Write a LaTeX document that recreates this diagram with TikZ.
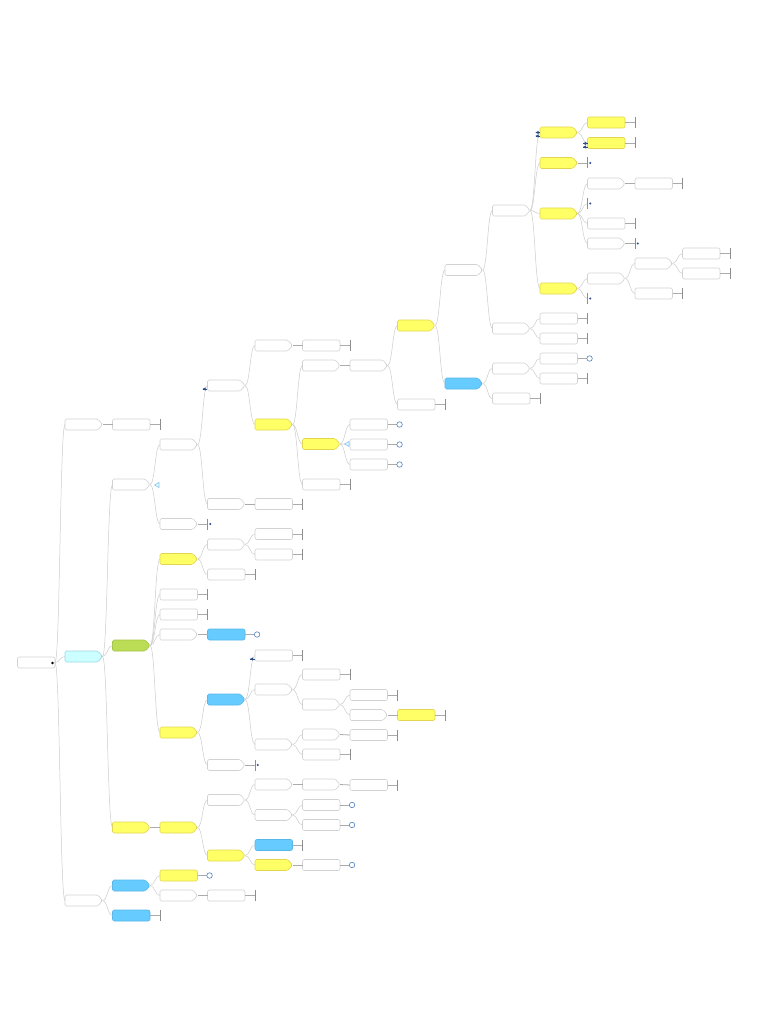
\documentclass[tikz,border=0pt]{standalone}
\usetikzlibrary{shapes.symbols}
\definecolor{yel}{HTML}{FFFF66}
\definecolor{yelb}{HTML}{E3D64E}
\definecolor{blu}{HTML}{66CCFF}
\definecolor{blub}{HTML}{55B6EA}
\definecolor{cya}{HTML}{CCFFFF}
\definecolor{cyab}{HTML}{99D8E8}
\definecolor{grn}{HTML}{BBDD55}
\definecolor{grnb}{HTML}{A3C445}
\definecolor{wbord}{HTML}{D2D2D2}
\definecolor{conc}{HTML}{CCCCCC}
\definecolor{tlc}{HTML}{ABABAB}
\definecolor{barc}{HTML}{8E8E8E}
\definecolor{circc}{HTML}{4F82C0}
\definecolor{dkb}{HTML}{2A4C8C}
\definecolor{lbm}{HTML}{8EC3EE}
\tikzset{
 base/.style={anchor=west, inner sep=0pt, outer sep=0pt, minimum width=37.5pt, minimum height=11pt, line width=0.6pt},
 leaf/.style={base, rectangle, rounded corners=2pt},
 tag/.style={base, shape=signal, signal to=east, signal from=nowhere, signal pointer angle=100, rounded corners=1.5pt},
 wh/.style={draw=wbord, fill=white},
 ye/.style={draw=yelb, fill=yel},
 bl/.style={draw=blub, fill=blu},
 cy/.style={draw=cyab, fill=cya},
 gr/.style={draw=grnb, fill=grn},
 conn/.style={draw=conc, line width=0.5pt},
 tline/.style={draw=tlc, line width=0.8pt},
 barl/.style={draw=barc, line width=0.8pt},
 circm/.style={circle, draw=circc, fill=white, line width=0.6pt, minimum size=5.5pt, inner sep=0pt, anchor=west},
}
\newcommand{\cn}[2]{\draw[conn] (#1.east) .. controls +(5,0) and +(-5,0) .. (#2.west);}
\newcommand{\cnc}[2]{\draw[conn] (#1.east) .. controls +(5,0) and +(-5,0) .. (#2);}
\newcommand{\sn}[2]{\draw[tline] (#1.east) -- (#2.west);}
\newcommand{\tb}[1]{\draw[tline] (#1.east) -- ++(10,0) coordinate (#1t); \draw[barl] ([yshift=5.5pt]#1t) -- ([yshift=-5.5pt]#1t);}
\newcommand{\tbd}[1]{\tb{#1}\fill[dkb] ([xshift=2.8pt]#1t) circle (1.1pt);}
\newcommand{\tc}[1]{\draw[tline] (#1.east) -- ++(9,0) coordinate (#1t); \node[circm] (#1c) at (#1t) {};}
\newcommand{\emb}[1]{\draw[barl] ([yshift=5.5pt]#1) -- ([yshift=-5.5pt]#1); \fill[dkb] ([xshift=2.8pt]#1) circle (1.1pt);}
\newcommand{\lmk}[2]{\fill[dkb] (#1,#2) -- ++(3,-1.6) -- ++(0,3.2) -- cycle; \draw[dkb, line width=0.6pt] (#1,#2) -- ++(4.5,0);}
\newcommand{\lbmk}[2]{\draw[lbm, fill=cya!60, line width=0.6pt] (#1-2.5,#2) -- (#1+2,#2-2.5) -- (#1+2,#2+2.5) -- cycle;}
\begin{document}
\begin{tikzpicture}[x=1pt,y=-1pt]
\useasboundingbox (0,0) rectangle (768,1024);
\fill[white] (0,0) rectangle (768,1024);
% column 0
\node[leaf,wh] (r) at (17.5,662.5) {};
% column 1
\node[tag,wh] (a1) at (65,424.5) {};
\node[tag,cy] (a2) at (65,656.5) {};
\node[tag,wh] (a3) at (65,900.5) {};
% column 2
\node[leaf,wh] (b1) at (112.5,424.5) {};
\node[tag,wh] (b2) at (112.5,484.5) {};
\node[tag,gr] (b3) at (112.5,645.5) {};
\node[tag,ye] (b4) at (112.5,827.5) {};
\node[tag,bl] (b5) at (112.5,885.5) {};
\node[leaf,bl] (b6) at (112.5,915.5) {};
% column 3
\node[tag,wh] (c1) at (160,444.5) {};
\node[tag,wh] (c2) at (160,524) {};
\node[tag,ye] (c3) at (160,559) {};
\node[leaf,wh] (c4) at (160,594.5) {};
\node[leaf,wh] (c5) at (160,614.5) {};
\node[tag,wh] (c6) at (160,634.5) {};
\node[tag,ye] (c7) at (160,732.5) {};
\node[tag,ye] (c8) at (160,827.5) {};
\node[leaf,ye] (c9) at (160,875.5) {};
\node[tag,wh] (c10) at (160,895.5) {};
% column 4
\node[tag,wh] (d1) at (207.5,385.5) {};
\node[tag,wh] (d2) at (207.5,504) {};
\node[tag,wh] (d3) at (207.5,544.5) {};
\node[leaf,wh] (d4) at (207.5,574.5) {};
\node[leaf,bl] (d5) at (207.5,634.5) {};
\node[tag,bl] (d6) at (207.5,699.5) {};
\node[tag,wh] (d7) at (207.5,765) {};
\node[tag,wh] (d8) at (207.5,800) {};
\node[tag,ye] (d9) at (207.5,855.5) {};
\node[leaf,wh] (d10) at (207.5,895.5) {};
% column 5
\node[tag,wh] (e1) at (255,345.5) {};
\node[tag,ye] (e2) at (255,424.5) {};
\node[leaf,wh] (e3) at (255,504) {};
\node[leaf,wh] (e4) at (255,534) {};
\node[leaf,wh] (e5) at (255,554.5) {};
\node[leaf,wh] (e6) at (255,655.5) {};
\node[tag,wh] (e7) at (255,689.5) {};
\node[tag,wh] (e8) at (255,744.5) {};
\node[tag,wh] (e9) at (255,784.5) {};
\node[tag,wh] (e10) at (255,815) {};
\node[leaf,bl] (e11) at (255,845) {};
\node[tag,ye] (e12) at (255,865) {};
% column 6
\node[leaf,wh] (f1) at (302.5,345.5) {};
\node[tag,wh] (f2) at (302.5,365.5) {};
\node[tag,ye] (f3) at (302.5,444) {};
\node[leaf,wh] (f4) at (302.5,484.5) {};
\node[leaf,wh] (f5) at (302.5,674.5) {};
\node[tag,wh] (f6) at (302.5,704.5) {};
\node[tag,wh] (f7) at (302.5,734.5) {};
\node[leaf,wh] (f8) at (302.5,754.5) {};
\node[tag,wh] (f9) at (302.5,784.5) {};
\node[leaf,wh] (f10) at (302.5,805) {};
\node[leaf,wh] (f11) at (302.5,825) {};
\node[leaf,wh] (f12) at (302.5,865) {};
% column 7
\node[tag,wh] (g1) at (350,365.5) {};
\node[leaf,wh] (g2) at (350,424.5) {};
\node[leaf,wh] (g3) at (350,444.5) {};
\node[leaf,wh] (g4) at (350,464.5) {};
\node[leaf,wh] (g5) at (350,695) {};
\node[tag,wh] (g6) at (350,715) {};
\node[leaf,wh] (g7) at (350,735) {};
\node[leaf,wh] (g8) at (350,785) {};
% column 8
\node[tag,ye] (h1) at (397.5,325.5) {};
\node[leaf,wh] (h2) at (397.5,404.5) {};
\node[leaf,ye] (h3) at (397.5,715) {};
% column 9
\node[tag,wh] (i1) at (445,270) {};
\node[tag,bl] (i2) at (445,383.5) {};
% column 10
\node[tag,wh] (j1) at (492.5,210.5) {};
\node[tag,wh] (j2) at (492.5,328.5) {};
\node[tag,wh] (j3) at (492.5,368.5) {};
\node[leaf,wh] (j4) at (492.5,398.5) {};
% column 11
\node[tag,ye] (k1) at (540,132.5) {};
\node[tag,ye] (k2) at (540,163) {};
\node[tag,ye] (k3) at (540,213.5) {};
\node[tag,ye] (k4) at (540,288.5) {};
\node[leaf,wh] (k5) at (540,318.5) {};
\node[leaf,wh] (k6) at (540,338.5) {};
\node[leaf,wh] (k7) at (540,358.5) {};
\node[leaf,wh] (k8) at (540,378.5) {};
% column 12
\node[leaf,ye] (l1) at (587.5,122.5) {};
\node[leaf,ye] (l2) at (587.5,143) {};
\node[tag,wh] (l3) at (587.5,183.5) {};
\coordinate (l4) at (587.5,203.5);
\node[leaf,wh] (l5) at (587.5,223.5) {};
\node[tag,wh] (l6) at (587.5,243.5) {};
\node[tag,wh] (l7) at (587.5,278.5) {};
\coordinate (l8) at (587.5,298.5);
% column 13
\node[leaf,wh] (m1) at (635,183.5) {};
\node[tag,wh] (m2) at (635,263.5) {};
\node[leaf,wh] (m3) at (635,293.5) {};
% column 14
\node[leaf,wh] (o1) at (682.5,253.5) {};
\node[leaf,wh] (o2) at (682.5,273.5) {};
% connectors
\cn{r}{a1}\cn{r}{a2}\cn{r}{a3}
\sn{a1}{b1}
\cn{a2}{b2}\cn{a2}{b3}\cn{a2}{b4}
\cn{a3}{b5}\cn{a3}{b6}
\cn{b2}{c1}\cn{b2}{c2}
\cn{b3}{c3}\cn{b3}{c4}\cn{b3}{c5}\cn{b3}{c6}\cn{b3}{c7}
\sn{b4}{c8}
\cn{b5}{c9}\cn{b5}{c10}
\cn{c1}{d1}\cn{c1}{d2}
\cn{c3}{d3}\cn{c3}{d4}
\sn{c6}{d5}
\cn{c7}{d6}\cn{c7}{d7}
\cn{c8}{d8}\cn{c8}{d9}
\sn{c10}{d10}
\cn{d1}{e1}\cn{d1}{e2}
\sn{d2}{e3}
\cn{d3}{e4}\cn{d3}{e5}
\cn{d6}{e6}\cn{d6}{e7}\cn{d6}{e8}
\cn{d8}{e9}\cn{d8}{e10}
\cn{d9}{e11}\cn{d9}{e12}
\sn{e1}{f1}
\cn{e2}{f2}\cn{e2}{f3}\cn{e2}{f4}
\cn{e7}{f5}\cn{e7}{f6}
\cn{e8}{f7}\cn{e8}{f8}
\sn{e9}{f9}
\cn{e10}{f10}\cn{e10}{f11}
\sn{e12}{f12}
\sn{f2}{g1}
\cn{f3}{g2}\cn{f3}{g3}\cn{f3}{g4}
\cn{f6}{g5}\cn{f6}{g6}
\sn{f7}{g7}
\sn{f9}{g8}
\cn{g1}{h1}\cn{g1}{h2}
\sn{g6}{h3}
\cn{h1}{i1}\cn{h1}{i2}
\cn{i1}{j1}\cn{i1}{j2}
\cn{i2}{j3}\cn{i2}{j4}
\cn{j1}{k1}\cn{j1}{k2}\cn{j1}{k3}\cn{j1}{k4}
\cn{j2}{k5}\cn{j2}{k6}
\cn{j3}{k7}\cn{j3}{k8}
\cn{k1}{l1}\cn{k1}{l2}
\cn{k3}{l3}\cnc{k3}{l4}\cn{k3}{l5}\cn{k3}{l6}
\cn{k4}{l7}\cnc{k4}{l8}
\sn{l3}{m1}
\cn{l7}{m2}\cn{l7}{m3}
\cn{m2}{o1}\cn{m2}{o2}
% terminators
\tb{b1}\tb{b6}
\tbd{c2}\tb{c4}\tb{c5}\tc{c9}
\tb{d4}\tc{d5}\tbd{d7}\tb{d10}
\tb{e3}\tb{e4}\tb{e5}\tb{e6}\tb{e11}
\tb{f1}\tb{f4}\tb{f5}\tb{f8}\tc{f10}\tc{f11}\tc{f12}
\tc{g2}\tc{g3}\tc{g4}\tb{g5}\tb{g7}\tb{g8}
\tb{h2}\tb{h3}
\tb{j4}
\tbd{k2}\tb{k5}\tb{k6}\tc{k7}\tb{k8}
\tb{l1}\tb{l2}\emb{l4}\tb{l5}\tbd{l6}\emb{l8}
\tb{m1}\tb{m3}
\tb{o1}\tb{o2}
% markers
\fill[black] (52.5,663) circle (1.3pt);
\lmk{202.5}{389}
\lmk{250}{659}
\lmk{535.5}{132.5}\lmk{535.5}{136}
\lmk{583}{143.5}\lmk{583}{147}
\lbmk{157}{485}
\lbmk{347}{444}
\end{tikzpicture}
\end{document}
